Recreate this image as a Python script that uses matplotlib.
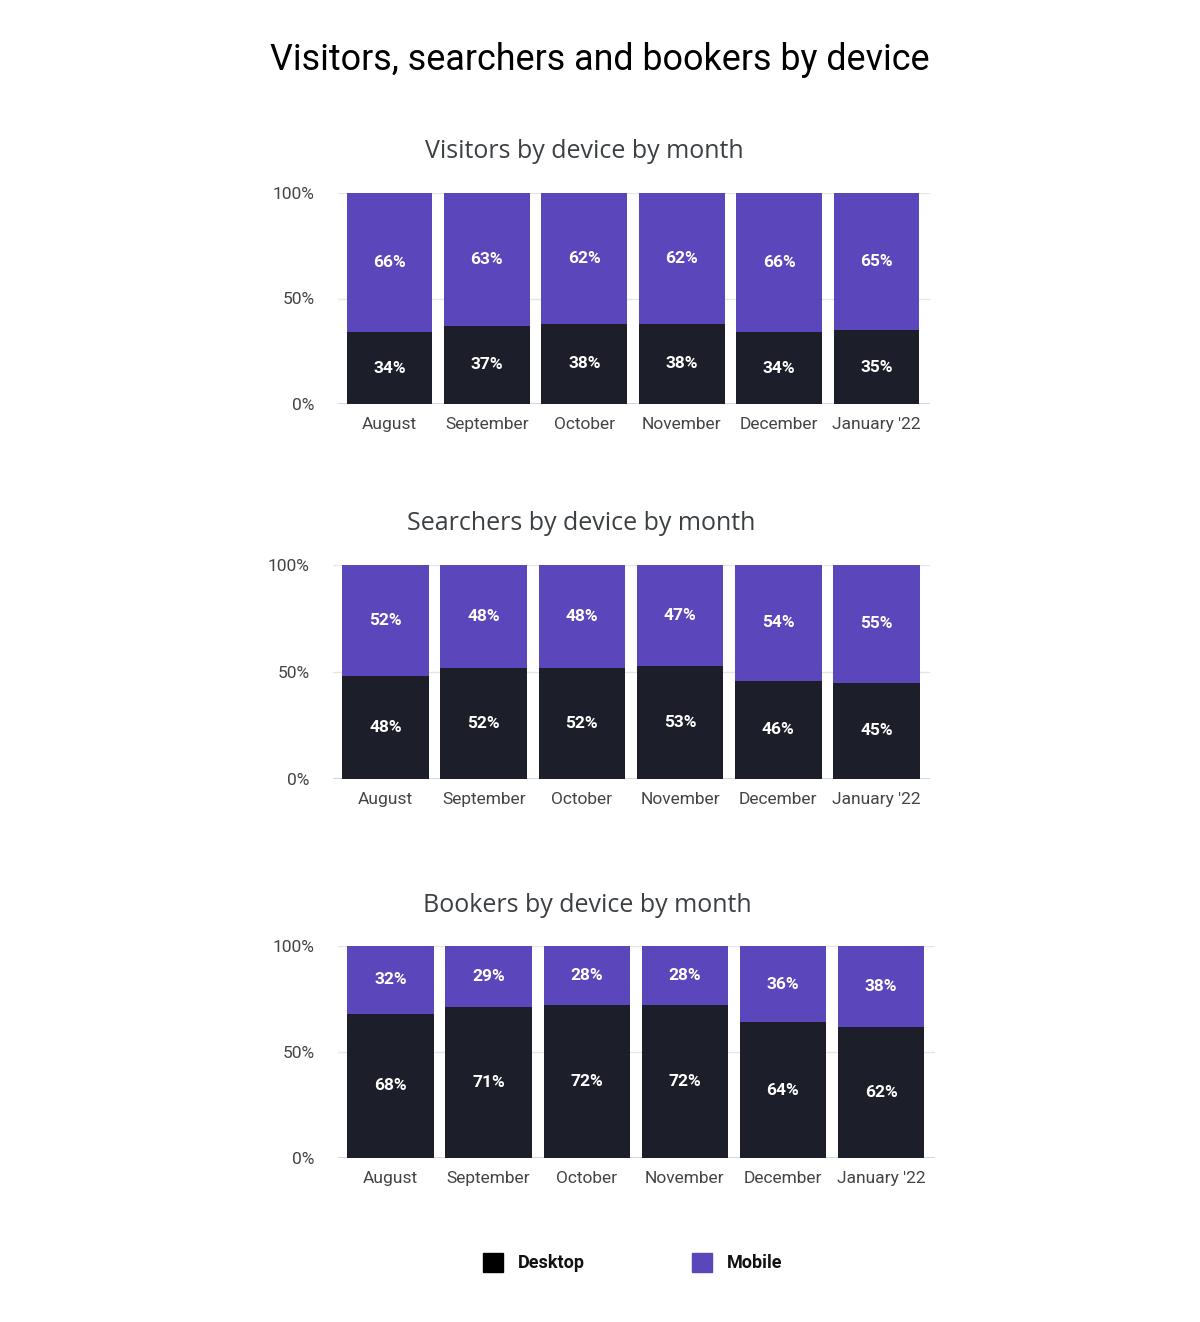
import numpy as np
import matplotlib.pyplot as plt

months = ["August", "September", "October", "November", "December", "January '22"]

visitors_desktop = [34, 37, 38, 38, 34, 35]
visitors_mobile = [66, 63, 62, 62, 66, 65]
searchers_desktop = [48, 52, 52, 53, 46, 45]
searchers_mobile = [52, 48, 48, 47, 54, 55]
bookers_desktop = [68, 71, 72, 72, 64, 62]
bookers_mobile = [32, 29, 28, 28, 36, 38]

yticks = [0, 50, 100]
ytick_labels = ["0%", "50%", "100%"]

DESK = "#1c1e29"
MOB = "#5b46bb"
W, H = 1200, 1322

fig = plt.figure(figsize=(W / 100, H / 100), dpi=100)
fig.patch.set_facecolor("white")


def px_axes(left, right, top, bottom):
    return fig.add_axes([left / W, 1 - bottom / H, (right - left) / W, (bottom - top) / H])


def draw(box, desk, mob, title, title_x, title_y, first_c, step):
    left, right, top, bottom = box
    ax = px_axes(left, right, top, bottom)
    x = np.arange(len(months))
    ax.bar(x, desk, width=0.88, color=DESK, zorder=3)
    ax.bar(x, mob, bottom=desk, width=0.88, color=MOB, zorder=3)
    for i in range(len(months)):
        ax.text(x[i], desk[i] / 2, f"{desk[i]}%", ha="center", va="center",
                color="white", fontsize=12.5, fontweight="bold", family="Roboto", zorder=4)
        ax.text(x[i], desk[i] + mob[i] / 2, f"{mob[i]}%", ha="center", va="center",
                color="white", fontsize=12.5, fontweight="bold", family="Roboto", zorder=4)
    # x range from pixel geometry of bar centres
    x0 = (left - first_c) / step
    x1 = (right - first_c) / step
    ax.set_xlim(x0, x1)
    ax.set_ylim(0, 100)
    ax.set_yticks(yticks)
    ax.set_yticklabels(ytick_labels)
    ax.set_xticks(x)
    ax.set_xticklabels(months)
    for s in ax.spines.values():
        s.set_visible(False)
    ax.tick_params(axis="both", length=0, labelsize=12.5, labelcolor="#444444")
    ax.tick_params(axis="y", pad=17)
    ax.tick_params(axis="x", pad=9.5)
    for lab in ax.get_xticklabels() + ax.get_yticklabels():
        lab.set_family("Roboto")
    for t in [50, 100]:
        ax.axhline(t, color="#e6e6e6", lw=1, zorder=1)
    ax.axhline(0, color="#c9d0e3", lw=1.2, zorder=2)
    fig.text(title_x / W, 1 - title_y / H, title, ha="center", va="center",
             fontsize=18, color="#3c4043", family="Open Sans")


fig.text(0.5, 1 - 60 / H, "Visitors, searchers and bookers by device", ha="center",
         va="center", fontsize=25.8, color="black", family="Roboto")

draw((338, 930, 193, 404), visitors_desktop, visitors_mobile,
     "Visitors by device by month", 584, 151, 389.5, 97.4)
draw((333, 930, 565, 779), searchers_desktop, searchers_mobile,
     "Searchers by device by month", 581, 523, 385.5, 98.2)
draw((338, 935, 946, 1158), bookers_desktop, bookers_mobile,
     "Bookers by device by month", 587, 905, 390.5, 98.1)

# legend
for sx, tx, col, name in [(483, 518, "black", "Desktop"), (692, 727, MOB, "Mobile")]:
    fig.patches.append(plt.Rectangle((sx / W, 1 - 1272 / H), 20 / W, 19 / H,
                                     transform=fig.transFigure, color=col))
    fig.text(tx / W, 1 - 1263 / H, name, ha="left", va="center", fontsize=13,
             fontweight="bold", color="#111111", family="Roboto")

fig.savefig("out.png", dpi=100, facecolor="white")
